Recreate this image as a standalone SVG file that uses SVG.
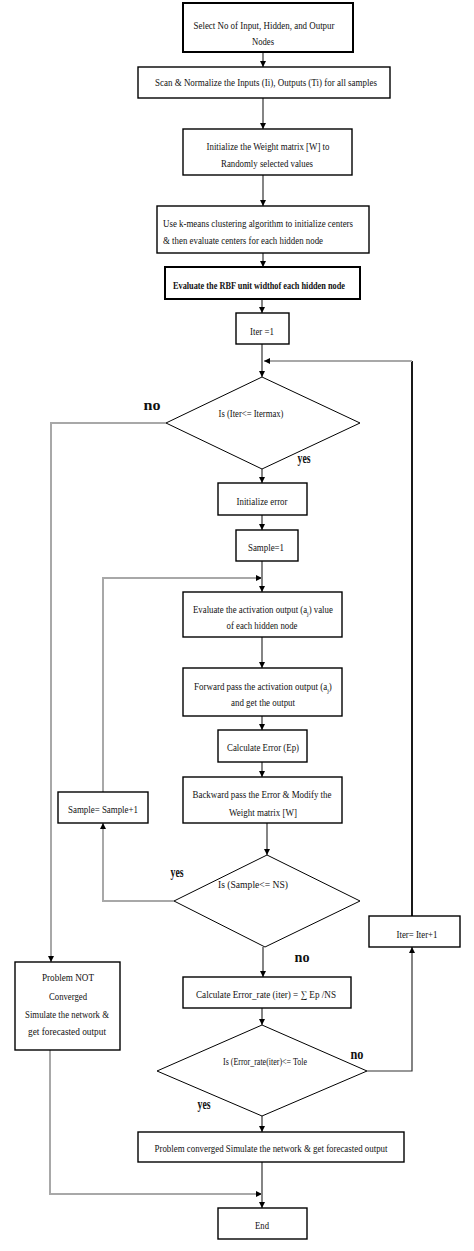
<svg xmlns="http://www.w3.org/2000/svg" width="474" height="1251" viewBox="0 0 474 1251">
<defs>
<style>
.box{fill:#fff;stroke:#000;stroke-width:1.4}
.bold{stroke-width:2}
.dia{fill:#fff;stroke:#000;stroke-width:1}
.t{font-family:"Liberation Serif","Times New Roman",serif;font-size:10.5px;fill:#111;text-anchor:middle}
.s{text-anchor:start}
.sub{font-size:7px}
.lbl{font-family:"Liberation Serif","Times New Roman",serif;font-size:15px;font-weight:bold;fill:#111;text-anchor:middle}
.c{fill:none;stroke:#333;stroke-width:1.2}
.g{fill:none;stroke:#a8a8a8;stroke-width:2}
.k{fill:none;stroke:#000;stroke-width:1.8}
</style>
<marker id="ah" viewBox="0 0 10 10" refX="10" refY="5" markerWidth="6" markerHeight="6" markerUnits="userSpaceOnUse" orient="auto">
<path d="M0,0 L10,5 L0,10 z" fill="#000"/>
</marker>
</defs>

<g id="connectors">
<line class="c" x1="263" y1="52" x2="263" y2="67" marker-end="url(#ah)"/>
<line class="c" x1="263" y1="98" x2="263" y2="129" marker-end="url(#ah)"/>
<line class="c" x1="263" y1="175" x2="263" y2="206" marker-end="url(#ah)"/>
<line class="c" x1="263" y1="253" x2="263" y2="267" marker-end="url(#ah)"/>
<line class="c" x1="262" y1="299" x2="262" y2="313" marker-end="url(#ah)"/>
<line class="c" x1="262" y1="344" x2="262" y2="377" marker-end="url(#ah)"/>
<polyline class="k" points="412,916 412,361"/>
<line class="g" x1="412" y1="361" x2="264" y2="361" marker-end="url(#ah)"/>
<polyline class="g" points="166,423 51,423 51,962" marker-end="url(#ah)"/>
<line class="c" x1="262" y1="469" x2="262" y2="483" marker-end="url(#ah)"/>
<line class="c" x1="262" y1="515" x2="262" y2="530" marker-end="url(#ah)"/>
<line class="c" x1="262" y1="561" x2="262" y2="592" marker-end="url(#ah)"/>
<polyline class="g" points="103,792 103,578 262,578" marker-end="url(#ah)"/>
<line class="c" x1="262" y1="637" x2="262" y2="668" marker-end="url(#ah)"/>
<line class="c" x1="262" y1="716" x2="262" y2="730" marker-end="url(#ah)"/>
<line class="c" x1="262" y1="762" x2="262" y2="777" marker-end="url(#ah)"/>
<line class="c" x1="267" y1="823" x2="267" y2="855" marker-end="url(#ah)"/>
<polyline class="g" points="174,901 103,901 103,823" marker-end="url(#ah)"/>
<line class="c" x1="263" y1="947" x2="263" y2="977" marker-end="url(#ah)"/>
<line class="c" x1="262" y1="1008" x2="262" y2="1025" marker-end="url(#ah)"/>
<polyline class="c" points="367,1071 412,1071 412,947" marker-end="url(#ah)"/>
<line class="c" x1="262" y1="1116" x2="262" y2="1132" marker-end="url(#ah)"/>
<line class="c" x1="262" y1="1162" x2="262" y2="1208" marker-end="url(#ah)"/>
<polyline class="g" points="50,1050 50,1194 262,1194" marker-end="url(#ah)"/>
</g>

<g id="n1">
<rect class="box bold" x="183" y="3" width="170" height="49"/>
<text class="t" x="264" y="29" textLength="141" lengthAdjust="spacingAndGlyphs">Select No of Input, Hidden, and Outpur</text>
<text class="t" x="263" y="45" textLength="22" lengthAdjust="spacingAndGlyphs">Nodes</text>
</g>
<g id="n2">
<rect class="box" x="138" y="67" width="252" height="31"/>
<text class="t" x="266" y="86" textLength="222" lengthAdjust="spacingAndGlyphs">Scan &amp; Normalize the Inputs (Ii), Outputs (Ti) for all samples</text>
</g>
<g id="n3">
<rect class="box" x="183" y="129" width="169" height="46"/>
<text class="t" x="268" y="150" textLength="123" lengthAdjust="spacingAndGlyphs">Initialize the Weight matrix [W] to</text>
<text class="t" x="267" y="167" textLength="92" lengthAdjust="spacingAndGlyphs">Randomly selected values</text>
</g>
<g id="n4">
<rect class="box" x="157" y="206" width="212" height="47"/>
<text class="t" x="258" y="227" textLength="190" lengthAdjust="spacingAndGlyphs">Use k-means clustering algorithm to initialize centers</text>
<text class="t" x="243" y="244" textLength="160" lengthAdjust="spacingAndGlyphs">&amp; then evaluate centers for each hidden node</text>
</g>
<g id="n5">
<rect class="box bold" x="165" y="267" width="195" height="32"/>
<text class="t" x="259" y="289" textLength="172" lengthAdjust="spacingAndGlyphs" style="font-weight:bold">Evaluate the RBF unit widthof each hidden node</text>
</g>
<g id="n6">
<rect class="box" x="236" y="313" width="53" height="31"/>
<text class="t" x="262" y="335" textLength="24" lengthAdjust="spacingAndGlyphs">Iter =1</text>
</g>
<g id="d1">
<polygon class="dia" points="262,377 360,423 262,469 166,423"/>
<text class="t" x="251" y="417" textLength="65" lengthAdjust="spacingAndGlyphs">Is (Iter&lt;= Itermax)</text>
<text class="lbl" x="152" y="410" textLength="17" lengthAdjust="spacingAndGlyphs">no</text>
<text class="lbl" x="304" y="463" textLength="13" lengthAdjust="spacingAndGlyphs">yes</text>
</g>
<g id="n7">
<rect class="box" x="218" y="483" width="89" height="32"/>
<text class="t" x="262" y="505" textLength="51" lengthAdjust="spacingAndGlyphs">Initialize error</text>
</g>
<g id="n8">
<rect class="box" x="236" y="530" width="62" height="31"/>
<text class="t" x="266" y="551" textLength="36" lengthAdjust="spacingAndGlyphs">Sample=1</text>
</g>
<g id="n9">
<rect class="box" x="183" y="592" width="159" height="45"/>
<text class="t s" transform="translate(193,613) scale(0.837,1)" x="0" y="0">Evaluate the activation output (a<tspan class="sub" dy="2.5">j</tspan><tspan dy="-2.5">) value</tspan></text>
<text class="t" x="262" y="629" textLength="71" lengthAdjust="spacingAndGlyphs">of each hidden node</text>
</g>
<g id="n10">
<rect class="box" x="183" y="668" width="159" height="48"/>
<text class="t s" transform="translate(194,690) scale(0.855,1)" x="0" y="0">Forward pass the activation output (a<tspan class="sub" dy="2.5">j</tspan><tspan dy="-2.5">)</tspan></text>
<text class="t" x="263" y="706" textLength="64" lengthAdjust="spacingAndGlyphs">and get the output</text>
</g>
<g id="n11">
<rect class="box" x="218" y="730" width="89" height="32"/>
<text class="t" x="263" y="751" textLength="72" lengthAdjust="spacingAndGlyphs">Calculate Error (Ep)</text>
</g>
<g id="n12">
<rect class="box" x="183" y="777" width="159" height="46"/>
<text class="t" x="262" y="798" textLength="139" lengthAdjust="spacingAndGlyphs">Backward pass the Error &amp; Modify the</text>
<text class="t" x="263" y="816" textLength="68" lengthAdjust="spacingAndGlyphs">Weight matrix [W]</text>
</g>
<g id="n13">
<rect class="box" x="58" y="792" width="90" height="31"/>
<text class="t" x="103" y="813" textLength="70" lengthAdjust="spacingAndGlyphs">Sample= Sample+1</text>
</g>
<g id="d2">
<polygon class="dia" points="267,855 360,901 265,947 174,901"/>
<text class="t" x="253" y="888" textLength="70" lengthAdjust="spacingAndGlyphs">Is (Sample&lt;= NS)</text>
<text class="lbl" x="177" y="877" textLength="13" lengthAdjust="spacingAndGlyphs">yes</text>
<text class="lbl" x="302" y="962" textLength="15" lengthAdjust="spacingAndGlyphs">no</text>
</g>
<g id="n14">
<rect class="box" x="369" y="916" width="91" height="31"/>
<text class="t" x="417" y="938" textLength="41" lengthAdjust="spacingAndGlyphs">Iter= Iter+1</text>
</g>
<g id="n15">
<rect class="box" x="15" y="962" width="105" height="88"/>
<text class="t" x="68" y="981" textLength="52" lengthAdjust="spacingAndGlyphs">Problem NOT</text>
<text class="t" x="68" y="1000" textLength="38" lengthAdjust="spacingAndGlyphs">Converged</text>
<text class="t" x="67" y="1018" textLength="84" lengthAdjust="spacingAndGlyphs">Simulate the network &amp;</text>
<text class="t" x="67" y="1035" textLength="78" lengthAdjust="spacingAndGlyphs">get forecasted output</text>
</g>
<g id="n16">
<rect class="box" x="183" y="977" width="168" height="31"/>
<text class="t" x="266" y="998" textLength="140" lengthAdjust="spacingAndGlyphs">Calculate Error_rate (iter) = ∑ Ep /NS</text>
</g>
<g id="d3">
<polygon class="dia" points="262,1025 367,1071 262,1116 157,1071"/>
<text class="t" x="265" y="1065" textLength="84" lengthAdjust="spacingAndGlyphs">Is (Error_rate(iter)&lt;= Tole</text>
<text class="lbl" x="357" y="1059" textLength="13" lengthAdjust="spacingAndGlyphs">no</text>
<text class="lbl" x="204" y="1109" textLength="13" lengthAdjust="spacingAndGlyphs">yes</text>
</g>
<g id="n17">
<rect class="box" x="138" y="1132" width="266" height="30"/>
<text class="t" x="271" y="1152" textLength="233" lengthAdjust="spacingAndGlyphs">Problem converged Simulate the network &amp; get forecasted output</text>
</g>
<g id="n18">
<rect class="box" x="218" y="1208" width="89" height="31"/>
<text class="t" x="262" y="1229" textLength="14" lengthAdjust="spacingAndGlyphs">End</text>
</g>
</svg>
